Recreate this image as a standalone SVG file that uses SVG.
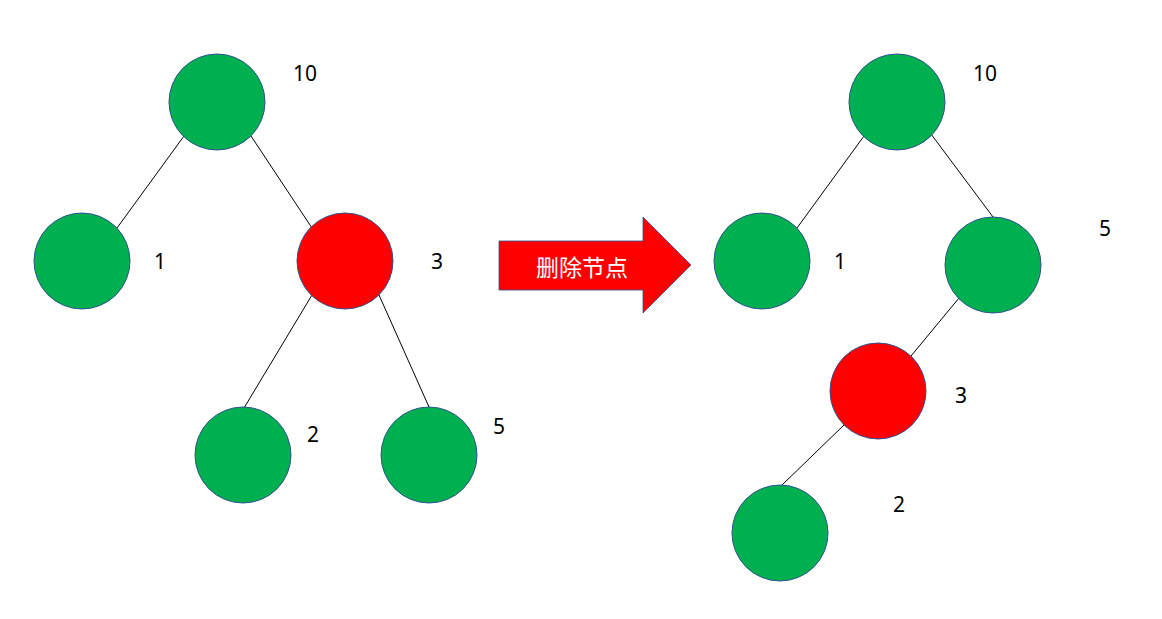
<svg xmlns="http://www.w3.org/2000/svg" width="1162" height="619" viewBox="0 0 1162 619">
<style>
.g{fill:#00B050;stroke:#2F528F;stroke-width:1}
.r{fill:#FF0000;stroke:#2F528F;stroke-width:1}
.e{stroke:#000;stroke-width:1;fill:none}
.t{font-family:"Noto Sans","Noto Sans CJK SC",sans-serif;font-size:21px;fill:#000;text-anchor:middle;dominant-baseline:central}
.w{font-family:"Noto Sans CJK SC",sans-serif;font-size:23px;fill:#fff;text-anchor:middle;dominant-baseline:central}
</style>
<rect width="1162" height="619" fill="#fff"/>
<g id="connectors">
<line class="e" x1="184" y1="136" x2="117" y2="228"/>
<line class="e" x1="251" y1="136" x2="312" y2="228"/>
<line class="e" x1="312" y1="295" x2="244" y2="408"/>
<line class="e" x1="379" y1="295" x2="429" y2="407"/>
<line class="e" x1="864" y1="136" x2="797" y2="228"/>
<line class="e" x1="931" y1="134" x2="993" y2="217"/>
<line class="e" x1="959" y1="298" x2="911" y2="356"/>
<line class="e" x1="844" y1="425" x2="781" y2="486"/>
</g>
<g id="L10"><circle class="g" cx="217" cy="102" r="48"/><text class="t" x="305" y="73">10</text></g>
<g id="L1"><circle class="g" cx="82" cy="261" r="48"/><text class="t" x="160" y="261">1</text></g>
<g id="L3"><circle class="r" cx="345" cy="261" r="48"/><text class="t" x="437" y="261">3</text></g>
<g id="L2"><circle class="g" cx="243" cy="455" r="48"/><text class="t" x="313" y="434">2</text></g>
<g id="L5"><circle class="g" cx="429" cy="455" r="48"/><text class="t" x="499" y="426">5</text></g>
<g id="arrow"><polygon points="499,241 643,241 643,217 691,265 643,313 643,290 499,290" fill="#FF0000" stroke="#2F528F" stroke-width="0.8"/><text class="w" x="582" y="266">删除节点</text></g>
<g id="R10"><circle class="g" cx="897" cy="102" r="48"/><text class="t" x="985" y="73">10</text></g>
<g id="R1"><circle class="g" cx="762" cy="261" r="48"/><text class="t" x="840" y="261">1</text></g>
<g id="R5"><circle class="g" cx="993" cy="265" r="48"/><text class="t" x="1105" y="228">5</text></g>
<g id="R3"><circle class="r" cx="878" cy="391" r="48"/><text class="t" x="961" y="395">3</text></g>
<g id="R2"><circle class="g" cx="780" cy="533" r="48"/><text class="t" x="899" y="504">2</text></g>
</svg>
